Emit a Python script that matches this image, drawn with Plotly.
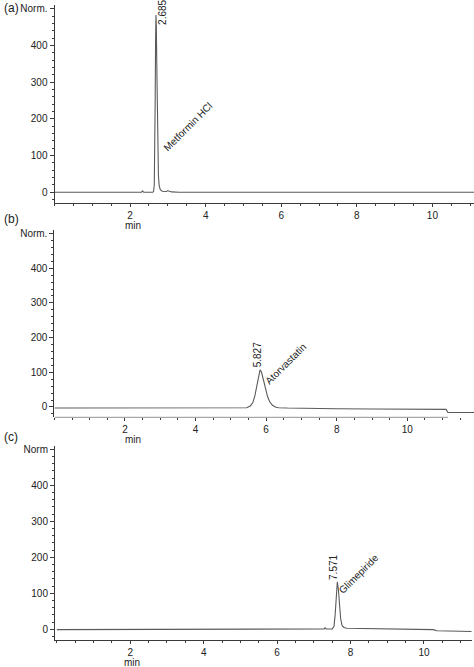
import plotly.graph_objects as go

# Panel (a) Metformin HCl
t_a = [0.0, 1.0, 2.0, 2.30, 2.33, 2.36, 2.60, 2.62, 2.64, 2.655, 2.665, 2.675, 2.685, 2.695,
       2.705, 2.715, 2.725, 2.735, 2.75, 2.77, 2.80, 2.85, 2.95, 3.00, 3.04, 3.10, 3.30, 5.0, 8.0, 11.1]
s_a = [0, 0, 0, 0, 4, 0, 0, 2, 20, 120, 260, 420, 483, 450,
       360, 250, 160, 95, 45, 18, 7, 3, 2, 4, 2, 1, 0, 0, 0, 0]

# Panel (b) Atorvastatin
t_b = [0.0, 1.0, 1.8, 2.2, 2.6, 3.5, 4.5, 5.3, 5.45, 5.55, 5.62, 5.68, 5.74, 5.78, 5.827,
       5.87, 5.92, 5.98, 6.04, 6.10, 6.18, 6.26, 6.35, 6.6, 7.0, 8.0, 9.0, 10.0, 11.10, 11.15, 11.9]
s_b = [-3, -3, -2, -1, -2, -2, -3, -3, -2, 3, 12, 32, 65, 92, 107,
       100, 80, 52, 30, 15, 5, 0, -2, -3, -3, -5, -6, -6, -7, -16, -16]

# Panel (c) Glimepiride
t_c = [0.0, 3.0, 6.9, 6.92, 7.28, 7.31, 7.34, 7.50, 7.55, 7.58, 7.61, 7.64, 7.67, 7.70,
       7.73, 7.77, 7.82, 7.90, 8.5, 9.5, 10.0, 10.25, 10.35, 11.3]
s_c = [-1, -1, -1, 1, 1, 4, 1, 1, 8, 40, 100, 132, 110, 65,
       30, 10, 5, 3, 2, 1, 0, -1, -4, -6]

peak_rt = ["2.685", "5.827", "7.571"]
compounds = ["Metformin HCl", "Atorvastatin", "Glimepiride"]
panel_tags = ["(a)", "(b)", "(c)"]
norm_labels = ["Norm.", "Norm.", "Norm"]
y_ticks = [0, 100, 200, 300, 400, 500]
x_ticks = [2, 4, 6, 8, 10]

FONT = "Arial, Liberation Sans, sans-serif"
LINE = "#5a5a5a"
AX = "#3a3a3a"

fig = go.Figure()
series = [(t_a, s_a), (t_b, s_b), (t_c, s_c)]
for i, (t, s) in enumerate(series):
    fig.add_trace(go.Scatter(x=t, y=s, mode="lines",
                             line=dict(color=LINE, width=1.1),
                             xaxis="x" if i == 0 else f"x{i+1}",
                             yaxis="y" if i == 0 else f"y{i+1}",
                             showlegend=False, hoverinfo="skip"))

H = 667.0
W = 474.0
# pixel boxes: (x0, x1, ytop, ybottom)
boxes = [(54.5, 474, 5.1, 203.3), (54.4, 474, 230, 417.4), (55, 471.7, 445.7, 640.1)]
xranges = [[0, 11.1], [0, 11.89], [-0.05, 11.3]]

layout = dict(width=474, height=667, margin=dict(l=0, r=0, t=0, b=0, autoexpand=False),
              paper_bgcolor="white", plot_bgcolor="white",
              font=dict(family=FONT, size=10, color="#222"))

for i in range(3):
    x0, x1, yt, yb = boxes[i]
    xk = "xaxis" if i == 0 else f"xaxis{i+1}"
    yk = "yaxis" if i == 0 else f"yaxis{i+1}"
    ax_anchor = "y" if i == 0 else f"y{i+1}"
    ay_anchor = "x" if i == 0 else f"x{i+1}"
    layout[xk] = dict(domain=[x0 / W, x1 / W], range=xranges[i], anchor=ax_anchor,
                      automargin=False,
                      tickvals=x_ticks, ticks="outside", ticklen=3, tickcolor=AX,
                      showline=(i != 1), linecolor=AX, linewidth=1,
                      showgrid=False, zeroline=False,
                      minor=dict(dtick=0.5, tick0=0, ticks="outside", ticklen=2, tickcolor=AX),
                      tickfont=dict(size=10, color="#222"))
    layout[yk] = dict(domain=[1 - yb / H, 1 - yt / H], range=[-30, 510], anchor=ay_anchor,
                      automargin=False,
                      tickvals=y_ticks,
                      ticktext=["0", "100", "200", "300", "400", norm_labels[i]],
                      ticks="outside", ticklen=4, tickcolor=AX,
                      showline=True, linecolor=AX, linewidth=1,
                      showgrid=False, zeroline=False,
                      minor=dict(dtick=20, tick0=0, ticks="outside", ticklen=2, tickcolor=AX),
                      tickfont=dict(size=10, color="#222"))

fig.update_layout(**layout)

# partial x-axis line for panel (b)
fig.add_shape(type="line", xref="x2", yref="y2", x0=0, x1=11.15, y0=-30, y1=-30,
              line=dict(color=AX, width=1))

# annotations
rt_pos = [(2.84, 491), (5.78, 150), (7.52, 173)]
name_pos = [(3.54, 179), (6.56, 126), (8.23, 155)]
min_x = [2.08, 2.23, 2.04]
min_y = [226, 439, 662]
tag_y = [8, 219, 437]
for i in range(3):
    xr = "x" if i == 0 else f"x{i+1}"
    yr = "y" if i == 0 else f"y{i+1}"
    fig.add_annotation(x=rt_pos[i][0], y=rt_pos[i][1], xref=xr, yref=yr, text=peak_rt[i],
                       textangle=-90, showarrow=False, xanchor="center", yanchor="middle",
                       font=dict(size=10, color="#222"))
    fig.add_annotation(x=name_pos[i][0], y=name_pos[i][1], xref=xr, yref=yr, text=compounds[i],
                       textangle=-45, showarrow=False, xanchor="center", yanchor="middle",
                       font=dict(size=10, color="#222"))
    fig.add_annotation(x=min_x[i], y=1 - min_y[i] / H, xref=xr, yref="paper", text="min",
                       showarrow=False, xanchor="center", yanchor="middle",
                       font=dict(size=10, color="#222"))
    fig.add_annotation(x=2 / W, y=1 - tag_y[i] / H, xref="paper", yref="paper", text=panel_tags[i],
                       showarrow=False, xanchor="left", yanchor="middle",
                       font=dict(size=12, color="#222"))

fig.write_html("out.html", config={"displayModeBar": False},
               post_script="document.body.style.margin='0';document.body.style.overflow='hidden';")
